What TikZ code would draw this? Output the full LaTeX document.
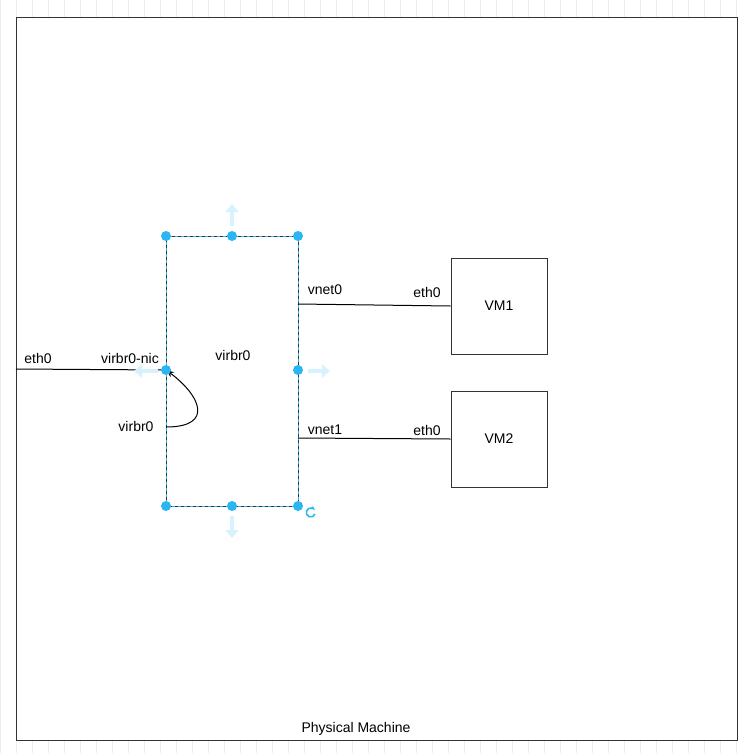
\documentclass[tikz,border=0pt]{standalone}
\usepackage{fontspec}
\setmainfont{Liberation Sans}
\usetikzlibrary{arrows.meta}
\definecolor{sel}{HTML}{29B6F2}
\begin{document}
\begin{tikzpicture}[x=1pt,y=-1pt,
  box/.style={draw=black!80,line width=1pt},
  wire/.style={draw=black,line width=1pt},
  lbl/.style={font=\fontsize{14}{16}\selectfont,inner sep=0pt},
  handle/.style={circle,fill=sel,inner sep=0pt,minimum size=10pt},
  hint/.style={sel!18,line width=4.5pt,-{Triangle[length=8pt,width=13pt]}}]
\useasboundingbox (0,0) rectangle (747,753);
\fill[white] (0,0) rectangle (747,753);
\draw[black!7,step=16] (0,0) grid (747,753);
\fill[white] (16,17) rectangle (737,740);
\draw[box] (16,17) rectangle (737,740);
\node[lbl] (pm) at (356,729) {Physical Machine};
% bridge
\draw[box] (166,236) rectangle (298,506);
\draw[sel,dashed,line width=0.8pt] (166,236) rectangle (298,506);
\coordinate (bl) at (166,370);
\coordinate (bl2) at (166,427);
\node[lbl] (br) at (233,355) {virbr0};
\node[box,minimum size=96pt,inner sep=0pt,font=\fontsize{14}{16}\selectfont] (vm1) at (499,306) {VM1};
\node[box,minimum size=96pt,inner sep=0pt,font=\fontsize{14}{16}\selectfont] (vm2) at (499,439) {VM2};
\coordinate (ext) at (16,369);
\coordinate (v0) at (298,304);
\coordinate (v1) at (298,438);
\draw[wire] (ext) -- (bl);
\draw[wire] (v0) -- (vm1.west);
\draw[wire] (v1) -- (vm2.west);
\draw[wire,-{Stealth[length=8pt]}] (bl2) .. controls (215,427) and (200,395) .. (bl);
\node[lbl] at (38,358) {eth0};
\node[lbl] at (130,358) {virbr0-nic};
\node[lbl] at (136,426) {virbr0};
\node[lbl] at (325,290) {vnet0};
\node[lbl] at (427,292) {eth0};
\node[lbl] at (325,430) {vnet1};
\node[lbl] at (427,430) {eth0};
% selection handles
\draw[hint] (232,226) -- (232,204);
\draw[hint] (232,516) -- (232,538);
\draw[hint] (308,371) -- (330,371);
\draw[hint] (158,371) -- (134,371);
\foreach \p in {(166,236),(232,236),(298,236),(166,506),(232,506),(298,506),(166,370),(298,370)}
  \node[handle] at \p {};
\draw[sel,line width=1.6pt,-{Stealth[length=4pt]}] (315,514) arc (20:320:4.5);
\end{tikzpicture}
\end{document}
